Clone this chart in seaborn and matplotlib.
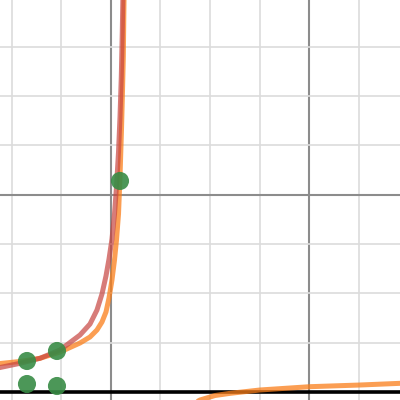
import matplotlib
matplotlib.use("Agg")
import matplotlib.pyplot as plt
import seaborn as sns
import pandas as pd
from matplotlib.ticker import MultipleLocator

# Data (grid units: one minor cell = 1)
red_x = [1.556, 1.758, 2.162, 2.566, 2.970, 3.374, 3.576, 3.717, 3.818, 3.899, 3.960,
         4.020, 4.071, 4.111, 4.152, 4.182, 4.208, 4.228, 4.242]
red_y = [0.467, 0.497, 0.582, 0.684, 0.852, 1.156, 1.379, 1.663, 1.988, 2.353, 2.698,
         3.103, 3.611, 4.158, 4.868, 5.578, 6.389, 7.302, 8.114]

orange_left_x = [1.556, 1.758, 2.162, 2.566, 2.970, 3.374, 3.576, 3.717, 3.818, 3.899, 3.960,
                 4.020, 4.071, 4.111, 4.152, 4.182, 4.212, 4.232, 4.249, 4.263, 4.269]
orange_left_y = [0.564, 0.578, 0.619, 0.684, 0.811, 0.994, 1.116, 1.258, 1.420, 1.623, 1.907,
                 2.272, 2.677, 3.083, 3.611, 4.361, 5.314, 6.085, 6.795, 7.951, 8.519]

orange_right_x = [5.495, 5.798, 6.101, 6.404, 7.010, 8.020, 9.030, 9.838, 10.05]
orange_right_y = [-0.325, -0.162, -0.071, -0.027, 0.041, 0.108, 0.142, 0.176, 0.180]

pts_x = [2.303, 2.909, 2.303, 2.909, 4.182]
pts_y = [0.629, 0.832, 0.162, 0.122, 4.280]

sns.set_theme(style="white")
fig = plt.figure(figsize=(4, 4), dpi=100)
ax = fig.add_axes([0, 0, 1, 1])

ax.xaxis.set_major_locator(MultipleLocator(4))
ax.xaxis.set_minor_locator(MultipleLocator(1))
ax.yaxis.set_major_locator(MultipleLocator(4))
ax.yaxis.set_minor_locator(MultipleLocator(1))
ax.grid(which="minor", color="#dcdcdc", linewidth=1.2)
ax.grid(which="major", color="#8c8c8c", linewidth=1.5)
ax.tick_params(which="both", length=0, labelbottom=False, labelleft=False)
for s in ax.spines.values():
    s.set_visible(False)
ax.axhline(0, color="black", linewidth=2.6, zorder=2)

red_df = pd.DataFrame({"x": red_x, "y": red_y})
ol_df = pd.DataFrame({"x": orange_left_x, "y": orange_left_y})
or_df = pd.DataFrame({"x": orange_right_x, "y": orange_right_y})
pts_df = pd.DataFrame({"x": pts_x, "y": pts_y})

line_kw = dict(sort=False, ax=ax, linewidth=3.6, zorder=3,
               solid_joinstyle="round", solid_capstyle="round")
sns.lineplot(data=ol_df, x="x", y="y", color="#fa7e19", alpha=0.75, **line_kw)
sns.lineplot(data=or_df, x="x", y="y", color="#fa7e19", alpha=0.75, **line_kw)
sns.lineplot(data=red_df, x="x", y="y", color="#c74440", alpha=0.7, **line_kw)
sns.scatterplot(data=pts_df, x="x", y="y", ax=ax, color="#388c46", s=170,
                alpha=0.9, edgecolor="none", zorder=4)

ax.set_xlabel("")
ax.set_ylabel("")
ax.set_xlim(1.758, 9.838)
ax.set_ylim(-0.162, 7.95)
fig.savefig("out.png", dpi=100)
